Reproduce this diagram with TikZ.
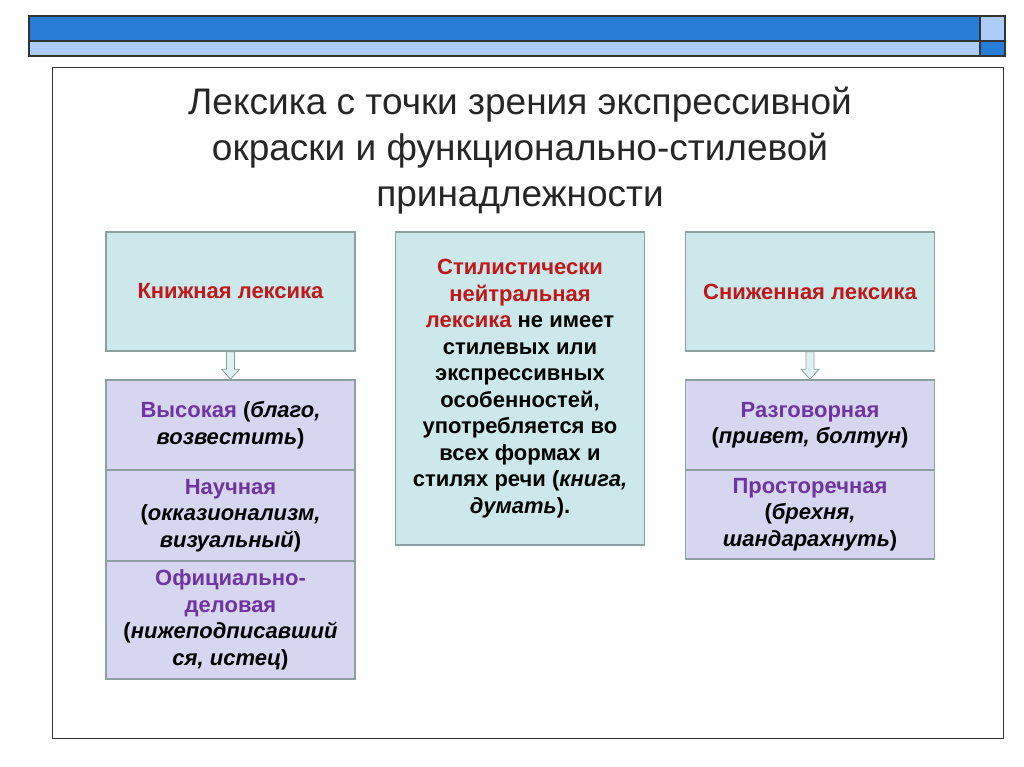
\documentclass[tikz,border=0pt]{standalone}
\usepackage{fontspec}
\setmainfont{Liberation Sans}
\usepackage{tikz}
\usetikzlibrary{calc}
\definecolor{barblue}{RGB}{40,126,214}
\definecolor{barlight}{RGB}{174,204,250}
\definecolor{teal}{RGB}{204,232,234}
\definecolor{lav}{RGB}{214,214,240}
\definecolor{edge}{RGB}{140,160,160}
\definecolor{redtxt}{RGB}{192,24,24}
\definecolor{purp}{RGB}{112,52,160}
\tikzset{
  topbox/.style={draw=edge, line width=1.5pt, fill=teal, minimum width=249pt, align=center, font=\bfseries\fontsize{22}{26.5}\selectfont},
  subbox/.style={draw=edge, line width=1.5pt, fill=lav, minimum width=249pt, align=center, font=\bfseries\fontsize{22}{26.5}\selectfont},
  downarrow/.style={draw=edge, fill=teal!60, line width=0.8pt}
}
\begin{document}
\begin{tikzpicture}[x=1pt,y=-1pt]
        \useasboundingbox (0,0) rectangle (1024,767);
        \fill[white] (0,0) rectangle (1024,767);
        % header bars
        \filldraw[fill=barblue, draw=black!80, line width=1.2pt] (29,16) rectangle (980,41);
        \filldraw[fill=barlight, draw=black!80, line width=1.2pt] (980,16) rectangle (1005,41);
        \filldraw[fill=barlight, draw=black!80, line width=1.2pt] (29,41) rectangle (980,56);
        \filldraw[fill=barblue, draw=black!80, line width=1.2pt] (980,41) rectangle (1005,56);
        \draw[black!80, line width=1pt] (52,68) rectangle (1003,738);
        % title
        \node[align=center, font=\fontsize{37}{46}\selectfont, text=black!85] (title) at (520,151)
          {Лексика с точки зрения экспрессивной\\окраски и функционально-стилевой\\принадлежности};
        % left column
        \node[topbox, minimum height=119pt] (book) at (230.5,291.5) {\textcolor{redtxt}{Книжная лексика}};
        \node[subbox, minimum height=90pt] (high) at (230.5,425) {\textcolor{purp}{Высокая} (\textit{благо,}\\\textit{возвестить})};
        \node[subbox, minimum height=91pt] (sci) at (230.5,515.5) {\textcolor{purp}{Научная}\\(\textit{окказионализм,}\\\textit{визуальный})};
        \node[subbox, minimum height=118pt] (off) at (230.5,620) {\textcolor{purp}{Официально-}\\\textcolor{purp}{деловая}\\(\textit{нижеподписавший}\\\textit{ся, истец})};
        % middle
        \node[topbox, minimum height=313pt] (neutral) at (520,388.5)
          {\textcolor{redtxt}{Стилистически}\\\textcolor{redtxt}{нейтральная}\\\textcolor{redtxt}{лексика} не имеет\\стилевых или\\экспрессивных\\особенностей,\\употребляется во\\всех формах и\\стилях речи (\textit{книга,}\\\textit{думать}).};
        % right column
        \node[topbox, minimum height=119pt] (low) at (810,291.5) {\textcolor{redtxt}{Сниженная лексика}};
        \node[subbox, minimum height=90pt] (talk) at (810,425) {\textcolor{purp}{Разговорная}\\(\textit{привет, болтун})};
        \node[subbox, minimum height=89pt] (folk) at (810,514.5) {\textcolor{purp}{Просторечная}\\(\textit{брехня,}\\\textit{шандарахнуть})};
        % arrows
        \foreach \a/\b in {book/high, low/talk}{
          \path (\a.south) coordinate (s) (\b.north) coordinate (e);
          \filldraw[downarrow] ($(s)+(-4,0)$) -- ($(s)+(4,0)$) -- ($(e)+(4,-10)$) -- ($(e)+(9,-10)$)
            -- (e) -- ($(e)+(-9,-10)$) -- ($(e)+(-4,-10)$) -- cycle;
        }
\end{tikzpicture}
\end{document}
